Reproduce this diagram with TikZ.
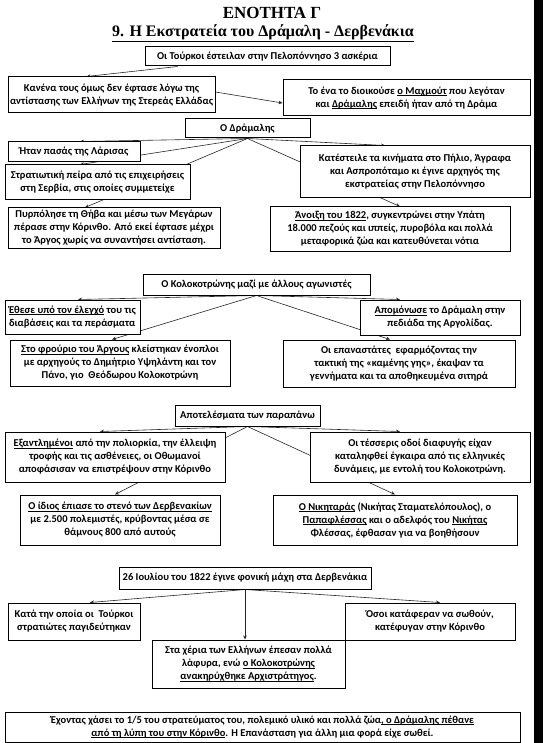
\documentclass[tikz,border=0pt]{standalone}
\usepackage{fontspec}
\setmainfont{Carlito}
\newfontfamily\titlefont{Liberation Serif}
\usetikzlibrary{arrows.meta, positioning, backgrounds}

\newsavebox\undlbox
\newcommand\undl[1]{\sbox\undlbox{#1}\rlap{\rule[-1.7pt]{\wd\undlbox}{0.7pt}}\usebox\undlbox}

\begin{document}
\begin{tikzpicture}[
  x=1pt, y=-1pt,
  box/.style={
    rectangle, draw=black, line width=1pt, fill=white,
    inner sep=1pt, align=center,
    font=\fontsize{10.5}{13}\selectfont\bfseries
  },
  sz/.style 2 args={minimum width=#1pt, minimum height=#2pt},
  arr/.style={-{Stealth[length=4pt, width=3.5pt]}, line width=0.6pt, black!85}
]
  \useasboundingbox (0,0) rectangle (544,743);
  \fill[black] (534,0) rectangle (543,743);

  % Titles
  \node[font=\titlefont\fontsize{17}{19}\selectfont\bfseries] (unit) at (272,13) {ΕΝΟΤΗΤΑ Γ};
  \node[font=\titlefont\fontsize{16}{18}\selectfont\bfseries] (title) at (263,33)
    {\underline{9. Η Εκστρατεία του Δράμαλη - Δερβενάκια}};

  % Part 1
  \node[box, sz={245}{19}] (tourk) at (267.5,56.5) {Οι Τούρκοι έστειλαν στην Πελοπόννησο 3 ασκέρια};
  \node[box, sz={207}{36}] (kanena) at (111.5,95)
    {Κανένα τους όμως δεν έφτασε λόγω της\\αντίστασης των Ελλήνων της Στερεάς Ελλάδας};
  \node[box, sz={247}{36}] (ena) at (406.5,98)
    {Το ένα το διοικούσε \undl{ο Μαχμούτ} που λεγόταν\\και \undl{Δράμαλης} επειδή ήταν από τη Δράμα};

  % Dramalis
  \node[box, sz={125}{19}] (dram) at (247.5,128.5) {Ο Δράμαλης};
  \node[box, sz={132}{20}] (pasas) at (74,152) {Ήταν πασάς της Λάρισας};
  \node[box, sz={185}{35}] (peira) at (97.5,182.5)
    {Στρατιωτική πείρα από τις επιχειρήσεις\\στη Σερβία, στις οποίες συμμετείχε};
  \node[box, sz={230}{52}] (kat) at (415,172)
    {Κατέστειλε τα κινήματα στο Πήλιο, Άγραφα\\και Ασπροπόταμο κι έγινε αρχηγός της\\εκστρατείας στην Πελοπόννησο};
  \node[box, sz={212}{40}] (pyr) at (114,228)
    {Πυρπόλησε τη Θήβα και μέσω των Μεγάρων\\πέρασε στην Κόρινθο. Από εκεί έφτασε μέχρι\\το Άργος χωρίς να συναντήσει αντίσταση.};
  \node[box, sz={240}{44}] (anoixi) at (390,229)
    {\undl{Άνοιξη του 1822}, συγκεντρώνει στην Υπάτη\\18.000 πεζούς και ιππείς, πυροβόλα και πολλά\\μεταφορικά ζώα και κατευθύνεται νότια};

  % Kolokotronis
  \node[box, sz={227}{21}] (kolo) at (256.5,284.5) {Ο Κολοκοτρώνης μαζί με άλλους αγωνιστές};
  \node[box, sz={135}{34}, align=left] (ethese) at (72.5,317)
    {\undl{Έθεσε υπό τον έλεγχό} του τις\\διαβάσεις και τα περάσματα};
  \node[box, sz={160}{35}] (apom) at (440,317.5)
    {\undl{Απομόνωσε} το Δράμαλη στην\\πεδιάδα της Αργολίδας.};
  \node[box, sz={220}{46}] (frour) at (120,363)
    {\undl{Στο φρούριο του Άργους} κλείστηκαν ένοπλοι\\με αρχηγούς το Δημήτριο Υψηλάντη και τον\\Πάνο, γιο\ \ Θεόδωρου Κολοκοτρώνη};
  \node[box, sz={232}{47}] (epan) at (399,363.5)
    {Οι επαναστάτες\ \ εφαρμόζοντας την\\τακτική της «καμένης γης», έκαψαν τα\\γεννήματα και τα αποθηκευμένα σιτηρά};

  % Results
  \node[box, sz={145}{21}] (apot) at (247.5,415.5) {Αποτελέσματα των παραπάνω};
  \node[box, sz={220}{50}] (exan) at (115,457)
    {\undl{Εξαντλημένοι} από την πολιορκία, την έλλειψη\\τροφής και τις ασθένειες, οι Οθωμανοί\\αποφάσισαν να επιστρέψουν στην Κόρινθο};
  \node[box, sz={220}{50}] (tess) at (420,457)
    {Οι τέσσερις οδοί διαφυγής είχαν\\καταληφθεί έγκαιρα από τις ελληνικές\\δυνάμεις, με εντολή του Κολοκοτρώνη.};
  \node[box, sz={200}{50}] (idios) at (120,520)
    {\undl{Ο ίδιος έπιασε το στενό των Δερβενακίων}\\με 2.500 πολεμιστές, κρύβοντας μέσα σε\\θάμνους 800 από αυτούς};
  \node[box, sz={244}{50}] (nik) at (395,520)
    {\undl{Ο Νικηταράς} (Νικήτας Σταματελόπουλος), ο\\\undl{Παπαφλέσσας} και ο αδελφός του \undl{Νικήτας}\\Φλέσσας, έφθασαν για να βοηθήσουν};

  % Battle
  \node[box, sz={252}{22}] (battle) at (245,578) {26 Ιουλίου του 1822 έγινε φονική μάχη στα Δερβενάκια};
  \node[box, sz={132}{37}] (kata) at (74,621.5)
    {Κατά την οποία οι\ \ Τούρκοι\\στρατιώτες παγιδεύτηκαν};
  \node[box, sz={170}{37}] (osoi) at (430,621.5)
    {Όσοι κατάφεραν να σωθούν,\\κατέφυγαν στην Κόρινθο};
  \node[box, sz={193}{48}] (xeria) at (248.5,664)
    {Στα χέρια των Ελλήνων έπεσαν πολλά\\λάφυρα, ενώ \undl{ο Κολοκοτρώνης}\\\undl{ανακηρύχθηκε Αρχιστράτηγος}.};

  % End
  \node[box, sz={515}{30}] (death) at (262.5,727)
    {Έχοντας χάσει το 1/5 του στρατεύματος του, πολεμικό υλικό και πολλά ζώα\undl{, ο Δράμαλης πέθανε}\\\undl{από τη λύπη του στην Κόρινθο}. Η Επανάσταση για άλλη μια φορά είχε σωθεί.};

  % Connectors (behind the boxes)
  \begin{scope}[on background layer]
    \draw[arr] ([xshift=-90]tourk.south) -- ([xshift=-25]kanena.north);
    \draw[arr] ([yshift=3]kanena.east) -- ([yshift=-5]ena.west);

    \draw[arr] (dram.south) -- ([xshift=6]pasas.north);
    \draw[arr] (dram.south) -- ([xshift=-17.5]peira.north);
    \draw[arr] (dram.south) -- ([xshift=-29]pyr.north);
    \draw[arr] (dram.south) -- ([xshift=-30]kat.north);
    \draw[arr] (dram.south) -- ([xshift=10]anoixi.north);

    \draw[arr] (kolo.south) -- ([xshift=5.5]ethese.north);
    \draw[arr] (kolo.south) -- ([xshift=-8]frour.north);
    \draw[arr] (kolo.south) -- ([xshift=-40]apom.north);
    \draw[arr] (kolo.south) -- ([xshift=-9]epan.north);

    \draw[arr] (apot.south) -- ([xshift=-15]exan.north);
    \draw[arr] (apot.south) -- ([xshift=-5]idios.north);
    \draw[arr] (apot.south) -- ([xshift=-20]tess.north);
    \draw[arr] (apot.south) -- (nik.north);

    \draw[arr] (battle.south) -- ([xshift=16]kata.north);
    \draw[arr] (battle.south) -- ([xshift=10]osoi.north);
    \draw[arr] (battle.south) -- (battle.south |- xeria.north);
  \end{scope}
\end{tikzpicture}
\end{document}
